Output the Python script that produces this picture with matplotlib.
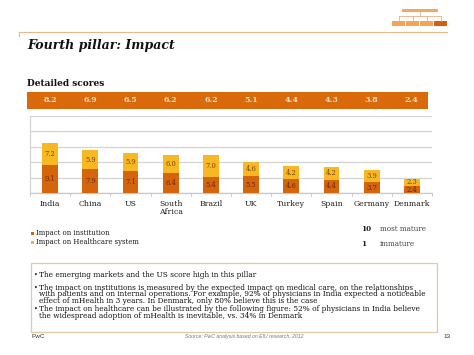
import numpy as np
import matplotlib.pyplot as plt
from matplotlib.patches import Rectangle
from matplotlib.lines import Line2D

# 数据
categories = ['India', 'China', 'US', 'South\nAfrica', 'Brazil', 'UK', 'Turkey', 'Spain', 'Germany', 'Denmark']
overall = [8.2, 6.9, 6.5, 6.2, 6.2, 5.1, 4.4, 4.3, 3.8, 2.4]
institution = [9.1, 7.9, 7.1, 6.4, 5.4, 5.5, 4.6, 4.4, 3.7, 2.4]
healthcare = [7.2, 5.9, 5.9, 6.0, 7.0, 4.6, 4.2, 4.2, 3.9, 2.3]

bullets = [
    ["The emerging markets and the US score high in this pillar"],
    ["The impact on institutions is measured by the expected impact on medical care, on the relationships",
     "with patients and on internal operations. For example, 92% of physicians in India expected a noticeable",
     "effect of mHealth in 3 years. In Denmark, only 80% believe this is the case"],
    ["The impact on healthcare can be illustrated by the following figure: 52% of physicians in India believe",
     "the widespread adoption of mHealth is inevitable, vs. 34% in Denmark"],
]

W, H = 474, 355
SERIF = 'DejaVu Serif'
DARK = '#d4650c'
YELLOW = '#f8b824'
ORANGE = '#d9690a'

fig = plt.figure(figsize=(W / 100, H / 100), dpi=100)


def fx(x):
    return x / W


def fy(y):
    return 1 - y / H


def ftext(x, y, s, **kw):
    fig.text(fx(x), fy(y), s, **kw)


def fline(x0, y0, x1, y1, **kw):
    fig.add_artist(Line2D([fx(x0), fx(x1)], [fy(y0), fy(y1)], transform=fig.transFigure, **kw))


def frect(x0, y0, x1, y1, **kw):
    fig.add_artist(Rectangle((fx(x0), fy(y1)), fx(x1) - fx(x0), (y1 - y0) / H,
                             transform=fig.transFigure, **kw))


# 右上角 logo
frect(402, 8.5, 438, 12, color='#f2a862', lw=0)
fline(420, 12, 420, 15.5, color='#e8b080', lw=0.6)
fline(398.5, 15.5, 440.5, 15.5, color='#e8b080', lw=0.6)
box_x = [392, 406, 420, 434]
for i, bx in enumerate(box_x):
    fline(bx + 6.5, 15.5, bx + 6.5, 20.5, color='#e8b080', lw=0.6)
    frect(bx, 20.5, bx + 13, 26, color='#d3600a' if i == 3 else '#f4a452', lw=0)

# 顶部分隔线
fline(19, 31.7, 447, 31.7, color='#e8b888', lw=0.8)
fline(19, 31.7, 19, 36, color='#e8b888', lw=0.8)

# 标题
ftext(27, 45, "Fourth pillar: Impact", family=SERIF, fontsize=9.0, fontweight='bold',
      fontstyle='italic', va='center', ha='left', color='#111111')
ftext(27, 84, "Detailed scores", family=SERIF, fontsize=6.5, fontweight='bold',
      va='center', ha='left', color='#111111')

# 主图
ax = fig.add_axes([fx(30), fy(193.3), fx(432) - fx(30), (193.3 - 115.7) / H])
x = np.arange(len(categories))
ax.bar(x, institution, width=0.39, color=DARK, zorder=3)
ax.bar(x, healthcare, width=0.39, bottom=institution, color=YELLOW, zorder=3)
for i in range(len(categories)):
    ax.text(x[i], institution[i] / 2, f"{institution[i]:.1f}", ha='center', va='center',
            family=SERIF, fontsize=4.9, color='#6e2600', zorder=4)
    ax.text(x[i], institution[i] + healthcare[i] / 2, f"{healthcare[i]:.1f}", ha='center', va='center',
            family=SERIF, fontsize=4.9, color='#7a4200', zorder=4)
ax.set_xlim(-0.5, len(categories) - 0.5)
ax.set_ylim(0, 25)
ax.set_yticks([0, 5, 10, 15, 20, 25])
ax.yaxis.grid(True, color='#d4d4d4', lw=0.9)
ax.set_yticklabels([])
ax.tick_params(axis='y', length=0)
ax.set_xticks(np.arange(-0.5, len(categories)), minor=False)
ax.set_xticklabels([])
ax.tick_params(axis='x', length=2.5, width=0.6, color='#bbbbbb', direction='out')
for sp in ['top', 'right']:
    ax.spines[sp].set_visible(False)
ax.spines['left'].set_color('#d4d4d4')
ax.spines['left'].set_linewidth(0.9)
ax.spines['bottom'].set_color('#c8c8c8')
ax.spines['bottom'].set_linewidth(0.9)
ax.set_facecolor('none')
for i, c in enumerate(categories):
    ax.text(x[i], -2.2, c, ha='center', va='top', family=SERIF, fontsize=5.6,
            color='#222222', linespacing=0.95)

# 橙色横幅
bx0, bx1 = 27, 428
ban = fig.add_axes([fx(bx0), fy(109), fx(bx1) - fx(bx0), (109 - 92) / H])
ban.set_xlim(-0.5 + (bx0 - 30) / 40.2, -0.5 + (bx1 - 30) / 40.2)
ban.set_ylim(0, 1)
ban.set_facecolor(ORANGE)
ban.set_xticks([])
ban.set_yticks([])
for sp in ban.spines.values():
    sp.set_visible(False)
for i, v in enumerate(overall):
    ban.text(x[i], 0.52, f"{v:.1f}", ha='center', va='center', family=SERIF,
             fontsize=5.7, fontweight='bold', color='#fbe3c4')

# 图例
frect(30.5, 231.5, 33.5, 234.5, color=DARK, lw=0)
frect(30.5, 241, 33.5, 244, color=YELLOW, lw=0)
ftext(35.5, 233, "Impact on institution", family=SERIF, fontsize=4.95, va='center', color='#1a1a1a')
ftext(35.5, 242.5, "Impact on Healthcare system", family=SERIF, fontsize=4.95, va='center', color='#1a1a1a')
ftext(361, 229, "10", family=SERIF, fontsize=5.1, fontweight='bold', va='center', color='#1a1a1a')
ftext(380, 229, "most mature", family=SERIF, fontsize=5.1, va='center', color='#444444')
ftext(361.5, 244.3, "1", family=SERIF, fontsize=5.1, fontweight='bold', va='center', color='#1a1a1a')
ftext(380, 244.3, "immature", family=SERIF, fontsize=5.1, va='center', color='#444444')

# 文本框
frect(31, 263, 437, 332, facecolor='none', edgecolor='#e6c9a2', lw=0.9)
line_y = [[275], [287.7, 294.2, 300.7], [309, 315.6]]
for blines, ys in zip(bullets, line_y):
    ftext(34.3, ys[0], "\u2022", family=SERIF, fontsize=4.8, va='center', color='#1a1a1a')
    for s, yy in zip(blines, ys):
        ftext(39.3, yy, s, family=SERIF, fontsize=5.35, va='center', color='#111111')

# 页脚
ftext(31.5, 336.5, "PwC", family='Liberation Sans', fontsize=4.6, va='center', color='#333333')
ftext(244, 336.5, "Source: PwC analysis based on EIU research, 2012", family='Liberation Sans',
      fontsize=3.7, fontstyle='italic', va='center', ha='center', color='#777777')
ftext(450.5, 336.5, "13", family='Liberation Sans', fontsize=4.6, va='center', ha='right', color='#333333')

fig.savefig('out.png', dpi=100, facecolor='white')
